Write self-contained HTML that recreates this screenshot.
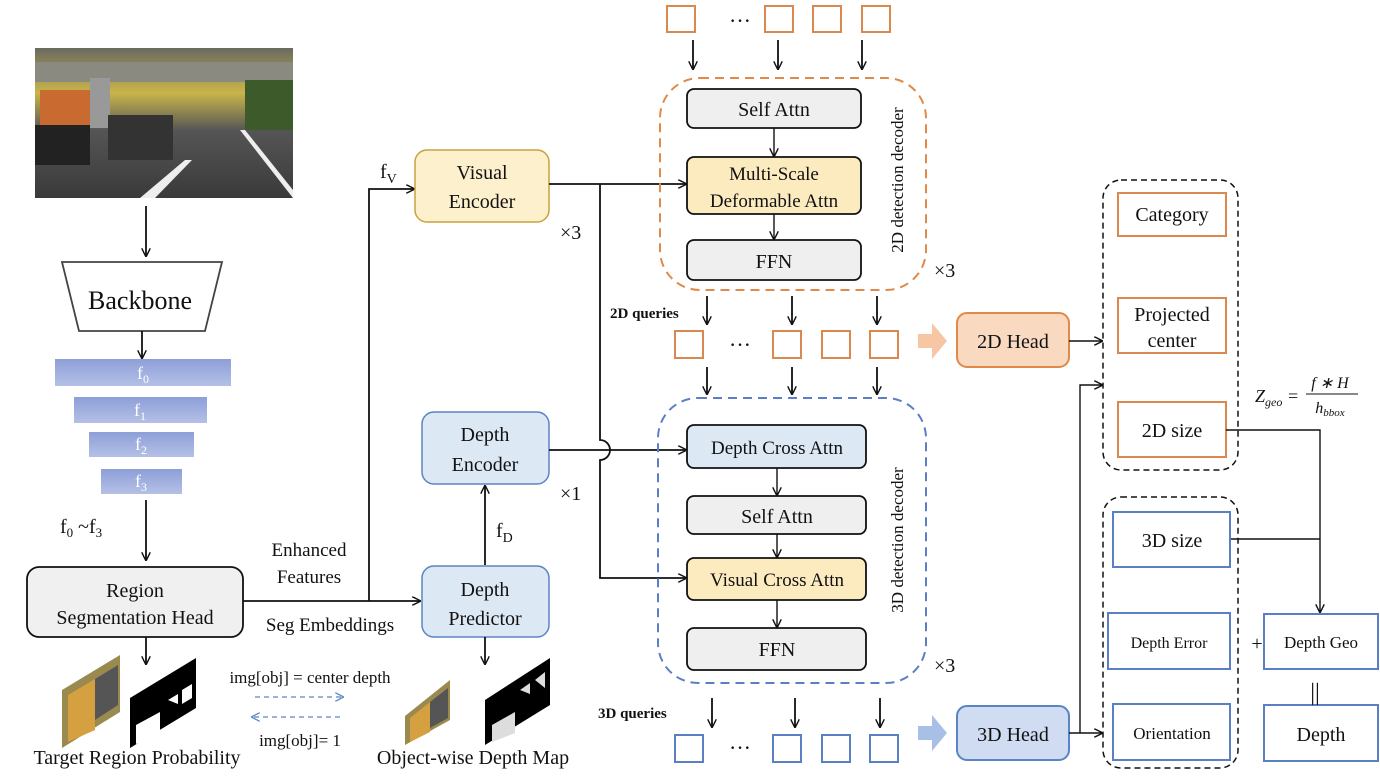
<!DOCTYPE html>
<html><head><meta charset="utf-8"><style>html,body{margin:0;padding:0;background:#fff}svg{display:block}text{font-family:"Liberation Serif",serif;fill:#111}</style></head>
<body>
<svg width="1380" height="780" viewBox="0 0 1380 780" xmlns="http://www.w3.org/2000/svg">
<defs>
<marker id="a" viewBox="0 0 10 10" refX="9" refY="5" markerWidth="9" markerHeight="9" orient="auto" markerUnits="userSpaceOnUse"><path d="M0,0 L10,5 L0,10" fill="none" stroke="#111" stroke-width="1.6"/></marker>
<marker id="ab" viewBox="0 0 10 10" refX="9" refY="5" markerWidth="9" markerHeight="9" orient="auto" markerUnits="userSpaceOnUse"><path d="M0,0 L10,5 L0,10" fill="none" stroke="#5b84c4" stroke-width="1.4"/></marker>
<linearGradient id="fb" x1="0" y1="0" x2="0" y2="1"><stop offset="0" stop-color="#8d9fd8"/><stop offset="1" stop-color="#b4c0e6"/></linearGradient>
<linearGradient id="road" x1="0" y1="0" x2="0" y2="1"><stop offset="0" stop-color="#6a6a60"/><stop offset="0.3" stop-color="#c9b54a"/><stop offset="0.55" stop-color="#555"/><stop offset="1" stop-color="#3a3a3a"/></linearGradient>
</defs>
<g stroke="#111" stroke-width="1.8" fill="none">
<!-- image -->
<rect x="35" y="48" width="258" height="150" fill="url(#road)" stroke="none"/>
<rect x="35" y="62" width="258" height="20" fill="#8a8a80" stroke="none"/>
<rect x="90" y="78" width="20" height="50" fill="#999" stroke="none"/>
<rect x="40" y="90" width="50" height="35" fill="#c96a30" stroke="none"/>
<rect x="245" y="80" width="48" height="50" fill="#3d5a2a" stroke="none"/>
<rect x="108" y="115" width="65" height="45" fill="#333" stroke="none"/>
<rect x="35" y="125" width="55" height="40" fill="#222" stroke="none"/>
<path d="M140,198 L185,160 L192,160 L155,198Z M245,130 L293,190 L293,198 L240,130Z" fill="#eee" stroke="none"/>
<path d="M146,206 V256" marker-end="url(#a)"/>
<path d="M62,262 H222 L205,331 H79 Z" fill="#fff" stroke="#444"/>
<path d="M142,331 V358" marker-end="url(#a)"/>
<path d="M146,500 V560" marker-end="url(#a)"/>
<rect x="27" y="567" width="216" height="70" rx="12" fill="#f0f0f0"/>
<path d="M243,601 H420" marker-end="url(#a)"/>
<path d="M369,601 V189 H414" marker-end="url(#a)"/>
<rect x="415" y="150" width="134" height="72" rx="12" fill="#fdf0cc" stroke="#c9a23e" stroke-width="1.5"/>
<rect x="422" y="412" width="127" height="72" rx="12" fill="#dde8f5" stroke="#5b84c4" stroke-width="1.5"/>
<rect x="422" y="566" width="127" height="71" rx="12" fill="#dde8f5" stroke="#5b84c4" stroke-width="1.5"/>
<path d="M485,565 V486" marker-end="url(#a)"/>
<path d="M146,637 V664" marker-end="url(#a)"/>
<path d="M485,637 V664" marker-end="url(#a)"/>
<path d="M549,184 H686" marker-end="url(#a)"/>
<path d="M600,184 V440 A10,10 0 0 1 600,460 V578 H686" marker-end="url(#a)"/>
<path d="M549,450 H686" marker-end="url(#a)"/>
<!-- top squares -->
<g stroke="#d98850" stroke-width="2"><rect x="667" y="6" width="28" height="26"/><rect x="765" y="6" width="28" height="26"/><rect x="813" y="6" width="28" height="26"/><rect x="862" y="6" width="28" height="26"/></g>
<path d="M693,40 V69" marker-end="url(#a)"/><path d="M778,40 V69" marker-end="url(#a)"/><path d="M862,40 V69" marker-end="url(#a)"/>
<rect x="660" y="78" width="266" height="212" rx="40" stroke="#e08a4a" stroke-dasharray="9,6" stroke-width="2"/>
<rect x="687" y="89" width="174" height="39" rx="7" fill="#efefef"/>
<path d="M774,128 V156" stroke-width="1.4" marker-end="url(#a)"/>
<rect x="687" y="157" width="174" height="57" rx="7" fill="#fdebc0"/>
<path d="M774,214 V239" stroke-width="1.4" marker-end="url(#a)"/>
<rect x="687" y="240" width="174" height="40" rx="7" fill="#efefef"/>
<path d="M707,296 V324" marker-end="url(#a)"/><path d="M792,296 V324" marker-end="url(#a)"/><path d="M877,296 V324" marker-end="url(#a)"/>
<g stroke="#d98850" stroke-width="2"><rect x="675" y="331" width="28" height="27"/><rect x="773" y="331" width="28" height="27"/><rect x="822" y="331" width="28" height="27"/><rect x="870" y="331" width="28" height="27"/></g>
<path d="M707,367 V394" marker-end="url(#a)"/><path d="M792,367 V394" marker-end="url(#a)"/><path d="M877,367 V394" marker-end="url(#a)"/>
<path d="M918,334 H932 V323 L947,341 L932,359 V348 H918Z" fill="#f7c7a5" stroke="none"/>
<rect x="957" y="313" width="112" height="54" rx="10" fill="#fad9c1" stroke="#e08a4a" stroke-width="2"/>
<path d="M1069,341 H1102" stroke-width="1.4" marker-end="url(#a)"/>
<rect x="1103" y="180" width="135" height="290" rx="18" stroke-dasharray="6,4" stroke-width="1.5"/>
<g stroke="#d98850" stroke-width="2"><rect x="1118" y="193" width="108" height="43"/><rect x="1118" y="298" width="108" height="55"/><rect x="1118" y="402" width="108" height="55"/></g>
<path d="M1226,430 H1320 V612" stroke-width="1.4" marker-end="url(#a)"/>
<path d="M1230,539 H1320" stroke-width="1.4"/>
<rect x="1103" y="497" width="135" height="271" rx="18" stroke-dasharray="6,4" stroke-width="1.5"/>
<g stroke="#5b7fc4" stroke-width="2"><rect x="1113" y="512" width="117" height="55"/><rect x="1108" y="613" width="122" height="56"/><rect x="1113" y="704" width="117" height="56"/><rect x="1264" y="614" width="114" height="55"/><rect x="1264" y="705" width="114" height="56"/></g>
<rect x="957" y="706" width="112" height="54" rx="10" fill="#cfdcf2" stroke="#5b84c4" stroke-width="2"/>
<path d="M1069,733 H1102" stroke-width="1.4" marker-end="url(#a)"/>
<path d="M1080,733 V385 H1102" stroke-width="1.4" marker-end="url(#a)"/>
<path d="M918,726 H932 V715 L947,733 L932,751 V740 H918Z" fill="#a9c0e6" stroke="none"/>
<rect x="658" y="398" width="268" height="285" rx="40" stroke="#5b7fc4" stroke-dasharray="9,6" stroke-width="2"/>
<rect x="687" y="425" width="179" height="43" rx="7" fill="#dde8f5"/>
<path d="M777,468 V495" stroke-width="1.4" marker-end="url(#a)"/>
<rect x="687" y="496" width="179" height="38" rx="7" fill="#efefef"/>
<path d="M777,534 V557" stroke-width="1.4" marker-end="url(#a)"/>
<rect x="687" y="558" width="179" height="42" rx="7" fill="#fdebc0"/>
<path d="M777,600 V627" stroke-width="1.4" marker-end="url(#a)"/>
<rect x="687" y="628" width="179" height="42" rx="7" fill="#efefef"/>
<path d="M712,698 V727" marker-end="url(#a)"/><path d="M795,698 V727" marker-end="url(#a)"/><path d="M880,698 V727" marker-end="url(#a)"/>
<g stroke="#5b7fc4" stroke-width="2"><rect x="675" y="735" width="28" height="27"/><rect x="773" y="735" width="28" height="27"/><rect x="822" y="735" width="28" height="27"/><rect x="870" y="735" width="28" height="27"/></g>
<!-- dashed blue arrows -->
<path d="M255,697 H343" stroke="#5b84c4" stroke-width="1.3" stroke-dasharray="5,4" marker-end="url(#ab)"/>
<path d="M340,717 H252" stroke="#5b84c4" stroke-width="1.3" stroke-dasharray="5,4" marker-end="url(#ab)"/>
</g>
<!-- f bars -->
<rect x="55" y="359" width="176" height="27" fill="url(#fb)"/>
<rect x="74" y="397" width="133" height="26" fill="url(#fb)"/>
<rect x="89" y="432" width="105" height="25" fill="url(#fb)"/>
<rect x="101" y="469" width="81" height="25" fill="url(#fb)"/>
<g font-size="18" text-anchor="middle"><text x="143" y="379" style="fill:#fff">f<tspan font-size="12" dy="4">0</tspan></text><text x="140" y="416" style="fill:#fff">f<tspan font-size="12" dy="4">1</tspan></text><text x="141" y="450" style="fill:#fff">f<tspan font-size="12" dy="4">2</tspan></text><text x="141" y="487" style="fill:#fff">f<tspan font-size="12" dy="4">3</tspan></text></g>
<!-- small images -->
<g>
<path d="M62,690 L120,655 L120,712 L62,748Z" fill="#9a8a50"/><path d="M68,695 L95,679 L95,730 L68,742Z" fill="#d4a040"/><path d="M95,679 L118,665 L118,705 L95,720Z" fill="#555"/>
<path d="M130,698 L196,658 L196,708 L130,748Z" fill="#000"/><path d="M136,725 L160,712 L160,735 L136,744Z M168,700 L178,694 L178,704Z M182,690 L192,684 L192,698 L182,704Z" fill="#fff"/>
<path d="M405,716 L450,680 L450,720 L405,745Z" fill="#9a8a50"/><path d="M410,718 L430,702 L430,732 L410,742Z" fill="#d4a040"/><path d="M430,702 L448,688 L448,718 L430,728Z" fill="#555"/>
<path d="M485,700 L550,658 L550,705 L485,745Z" fill="#000"/><path d="M492,725 L515,712 L515,733 L492,742Z M520,690 L530,683 L530,694Z M535,680 L545,672 L545,688Z" fill="#ddd"/>
</g>
<!-- texts -->
<g font-size="20" text-anchor="middle">
<text x="140" y="309" font-size="26">Backbone</text>
<text x="135" y="597">Region</text><text x="135" y="624">Segmentation Head</text>
<text x="482" y="179">Visual</text><text x="482" y="208">Encoder</text>
<text x="485" y="441">Depth</text><text x="485" y="471">Encoder</text>
<text x="485" y="596">Depth</text><text x="485" y="625">Predictor</text>
<text x="309" y="556" font-size="19">Enhanced</text><text x="309" y="583" font-size="19">Features</text>
<text x="330" y="631" font-size="19">Seg Embeddings</text>
<text x="310" y="683" font-size="17">img[obj] = center depth</text>
<text x="300" y="746" font-size="17">img[obj]= 1</text>
<text x="137" y="764">Target Region Probability</text>
<text x="473" y="764">Object-wise Depth Map</text>
<text x="774" y="116">Self Attn</text>
<text x="774" y="180" font-size="19">Multi-Scale</text><text x="774" y="207" font-size="19">Deformable Attn</text>
<text x="774" y="268">FFN</text>
<text x="777" y="454" font-size="19">Depth Cross Attn</text>
<text x="777" y="523">Self Attn</text>
<text x="777" y="586" font-size="19">Visual Cross Attn</text>
<text x="777" y="656">FFN</text>
<text x="1013" y="348">2D Head</text>
<text x="1013" y="741">3D Head</text>
<text x="1172" y="221">Category</text>
<text x="1172" y="321">Projected</text><text x="1172" y="347">center</text>
<text x="1172" y="437">2D size</text>
<text x="1172" y="547">3D size</text>
<text x="1169" y="648" font-size="16">Depth Error</text>
<text x="1172" y="739" font-size="17">Orientation</text>
<text x="1321" y="648" font-size="17">Depth Geo</text>
<text x="1321" y="741">Depth</text>
<text x="1257" y="650">+</text>
<text x="1315" y="700" font-size="24">||</text>
<text x="740" y="28" font-size="22">···</text>
<text x="740" y="352" font-size="22">···</text>
<text x="740" y="755" font-size="22">···</text>
</g>
<g font-size="20">
<text x="560" y="239">×3</text><text x="560" y="500">×1</text>
<text x="934" y="277">×3</text><text x="934" y="672">×3</text>
<text x="380" y="178">f<tspan font-size="14" dy="5">V</tspan></text>
<text x="496" y="537">f<tspan font-size="14" dy="5">D</tspan></text>
<text x="60" y="533">f<tspan font-size="13" dy="4">0</tspan><tspan dy="-4"> ~f</tspan><tspan font-size="13" dy="4">3</tspan></text>
<text x="610" y="318" font-size="15" font-weight="bold">2D queries</text>
<text x="598" y="718" font-size="15" font-weight="bold">3D queries</text>
<text font-size="17" transform="translate(903,180) rotate(-90)" text-anchor="middle">2D detection decoder</text>
<text font-size="17" transform="translate(903,540) rotate(-90)" text-anchor="middle">3D detection decoder</text>
<text x="1255" y="402" font-size="18" font-style="italic">Z<tspan font-size="12" dy="4">geo</tspan><tspan dy="-4"> =</tspan></text>
<text x="1330" y="388" font-size="16" font-style="italic" text-anchor="middle">f ∗ H</text>
<text x="1330" y="413" font-size="16" font-style="italic" text-anchor="middle">h<tspan font-size="11" dy="3">bbox</tspan></text>
</g>
<line x1="1306" y1="394" x2="1358" y2="394" stroke="#111" stroke-width="1"/>
</svg>
</body></html>
